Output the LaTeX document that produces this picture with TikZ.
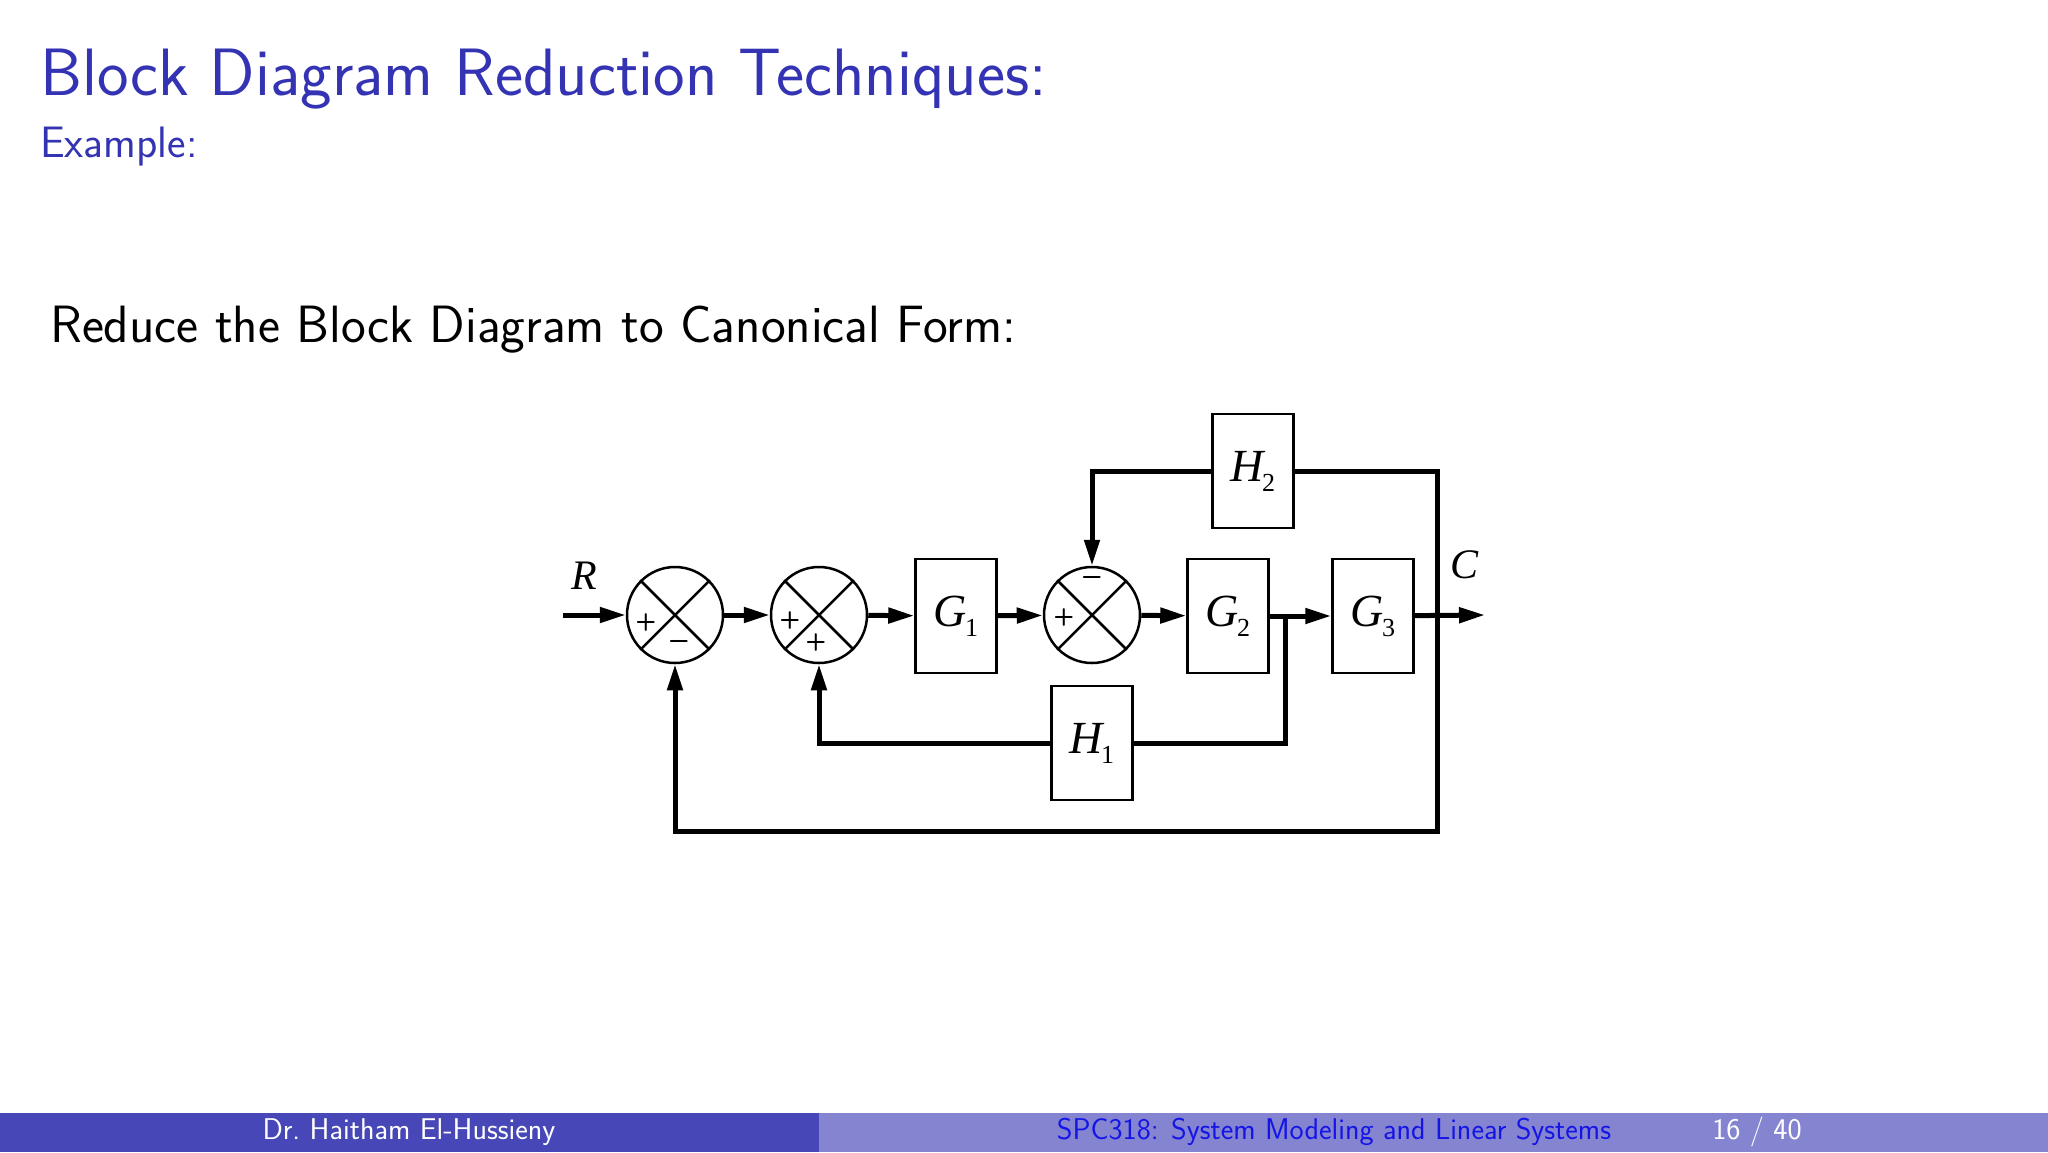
\documentclass[tikz,border=0pt]{standalone}
\usepackage{fontspec}
\newfontfamily\tms{Liberation Serif}
\usetikzlibrary{arrows.meta}
\definecolor{struct}{RGB}{51,51,179}
\definecolor{footdark}{RGB}{71,71,184}
\definecolor{footlight}{RGB}{132,132,208}
\definecolor{footblue}{RGB}{20,20,230}
\newcommand{\blab}[2]{{\itshape #1}\kern-2pt\raisebox{-10pt}{\upshape\fontsize{26}{26}\selectfont #2}}
\tikzset{
 blk/.style={draw,line width=2.5pt,minimum width=81pt,minimum height=114pt,inner sep=0pt,font=\tms\fontsize{46}{46}\selectfont},
 sumj/.style={draw,circle,line width=2.5pt,minimum size=96pt,inner sep=0pt},
 sig/.style={line width=5pt,-{Triangle[length=26pt,width=15pt]}},
 wire/.style={line width=5pt},
 sgn/.style={font=\sffamily\bfseries\fontsize{24}{24}\selectfont,inner sep=0pt},
 lbl/.style={font=\tms\itshape\fontsize{42}{42}\selectfont,inner sep=0pt}
}
\begin{document}
\begin{tikzpicture}[x=1pt,y=-1pt]
\useasboundingbox (0,0) rectangle (2048,1152);
\fill[white] (0,0) rectangle (2048,1152);
\node[anchor=base west,inner sep=0pt,text=struct,font=\sffamily\fontsize{67}{67}\selectfont] (title) at (40,95) {Block Diagram Reduction Techniques:};
\node[anchor=base west,inner sep=0pt,text=struct,font=\sffamily\fontsize{44}{44}\selectfont] (sub) at (40,157) {Example:};
\node[anchor=base west,inner sep=0pt,font=\sffamily\fontsize{52.5}{52.5}\selectfont] (task) at (50,342) {Reduce the Block Diagram to Canonical Form:};
% footer
\fill[footdark] (0,1113) rectangle (819,1152);
\fill[footlight] (819,1113) rectangle (2048,1152);
\node[text=white,font=\sffamily\fontsize{30}{30}\selectfont] (f1) at (409,1132) {Dr.\ Haitham El-Hussieny};
\node[text=footblue,font=\sffamily\fontsize{30}{30}\selectfont] (f2) at (1334,1132) {SPC318: System Modeling and Linear Systems};
\node[text=white,font=\sffamily\fontsize{30}{30}\selectfont] (f3) at (1757,1132) {16 / 40};
% diagram
\coordinate (in) at (563,615);
\node[sumj] (s1) at (675,615) {};
\node[sumj] (s2) at (819,615) {};
\node[blk] (g1) at (956,616) {\blab{G}{1}};
\node[sumj] (s3) at (1092,615) {};
\node[blk] (g2) at (1228,616) {\blab{G}{2}};
\node[blk] (g3) at (1373,616) {\blab{G}{3}};
\node[blk] (h2) at (1253,471) {\blab{H}{2}};
\node[blk] (h1) at (1092,743) {\blab{H}{1}};
\coordinate (out) at (1485,615);
\coordinate (b1) at (1285,615);
\coordinate (b2) at (1437,615);
\foreach \s in {s1,s2,s3}{
 \draw[line width=2.5pt] (\s.north west)--(\s.south east) (\s.north east)--(\s.south west);}
\node[sgn] (p1) at (646,622) {+};
\node[sgn] (m1) at (679,644) {\textminus};
\node[sgn] (p2) at (790,620) {+};
\node[sgn] (p3) at (816,642) {+};
\node[sgn] (p4) at (1064,617) {+};
\node[sgn] (m3) at (1092,580) {\textminus};
\node[lbl] (R) at (584,576) {R};
\node[lbl] (C) at (1464,565) {C};
\draw[sig] (in) -- (s1);
\draw[sig] (s1) -- (s2);
\draw[sig] (s2) -- (g1);
\draw[sig] (g1) -- (s3);
\draw[sig] (s3) -- (g2);
\draw[sig] (g2) -- (g3);
\draw[sig] (g3) -- (out);
\draw[wire] (b2) |- (h2.east);
\draw[sig] (h2.west) -| (s3.north);
\draw[wire] (b1) |- (h1.east);
\draw[sig] (h1.west) -| (s2.south);
\draw[sig] (b2) |- (675,831) -- (s1.south);
\end{tikzpicture}
\end{document}
